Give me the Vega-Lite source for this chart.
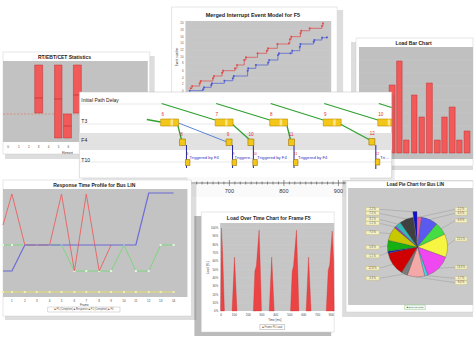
{
"$schema": "https://vega.github.io/schema/vega-lite/v6.json",
"width": 474, "height": 355,
"autosize": {"type": "fit", "contains": "padding"},
"padding": 0,
"background": "#ffffff",
"config": {"view": {"stroke": null}, "text": {"font": "Liberation Sans"}},
"encoding": {
 "x": {"field": "x", "type": "quantitative", "scale": {"domain": [0, 474], "nice": false, "zero": false}, "axis": null},
 "y": {"field": "y", "type": "quantitative", "scale": {"domain": [0, 355], "nice": false, "zero": false, "reverse": true}, "axis": null}
},
"layer": [
 {"data": {"values": [{"x":174,"x2":343,"y":10,"y2":98}]}, "mark": {"type":"rect","fill":"#555","opacity":0.2}, "encoding": {"x2":{"field":"x2"},"y2":{"field":"y2"}}},
 {"data": {"values": [{"x":170,"x2":337,"y":7,"y2":95}]}, "mark": {"type":"rect","fill":"#ffffff","stroke":"#cfcfcf","strokeWidth":0.5}, "encoding": {"x2":{"field":"x2"},"y2":{"field":"y2"}}},
 {"data": {"values": [{"x":184,"x2":331,"y":21,"y2":95}]}, "mark": {"type":"rect","fill":"#c6c6c6"}, "encoding": {"x2":{"field":"x2"},"y2":{"field":"y2"}}},
 {"data": {"values": [{"x":184,"x2":331,"y":30,"y2":30},{"x":184,"x2":331,"y":37,"y2":37},{"x":184,"x2":331,"y":43,"y2":43},{"x":184,"x2":331,"y":50,"y2":50},{"x":184,"x2":331,"y":57,"y2":57},{"x":184,"x2":331,"y":63,"y2":63},{"x":184,"x2":331,"y":71,"y2":71},{"x":184,"x2":331,"y":78,"y2":78},{"x":184,"x2":331,"y":84,"y2":84}]}, "mark": {"type":"rule","color":"#dadada","strokeWidth":0.4,"strokeDash":[1,1]}, "encoding": {"x2":{"field":"x2"},"y2":{"field":"y2"}}},
 {"data": {"values": [{"x":189.3,"y":88.3},{"x":190.7,"y":86},{"x":198.3,"y":83.3},{"x":199.3,"y":81},{"x":211.7,"y":78.3},{"x":212.7,"y":76},{"x":221,"y":72.7},{"x":222,"y":70.7},{"x":234,"y":68.3},{"x":236,"y":65},{"x":243.3,"y":60},{"x":245,"y":57.3},{"x":256.7,"y":53.3},{"x":266,"y":50.7},{"x":267.3,"y":48.3},{"x":276.7,"y":44},{"x":288.3,"y":43.3},{"x":289.3,"y":39.3},{"x":290.7,"y":36.7},{"x":300,"y":33.3},{"x":300.7,"y":30.7},{"x":309.3,"y":28.3},{"x":321.7,"y":26},{"x":322.7,"y":23.3}]}, "mark": {"type":"line","interpolate":"step-after","color":"#e04848","strokeWidth":0.7,"point":{"shape":"square","size":3,"filled":true,"color":"#e04848"}}, "encoding": {}},
 {"data": {"values": [{"x":188.3,"y":90.7},{"x":201.7,"y":89.3},{"x":202.7,"y":87.3},{"x":210,"y":85},{"x":210.7,"y":83.3},{"x":223.3,"y":80.7},{"x":231.7,"y":78.3},{"x":232.7,"y":76},{"x":246.7,"y":70.7},{"x":247.3,"y":68.3},{"x":255,"y":65},{"x":267.3,"y":62.7},{"x":268.3,"y":60},{"x":277.3,"y":55},{"x":278.3,"y":53.3},{"x":290,"y":53.3},{"x":291.7,"y":50.7},{"x":299.3,"y":46.7},{"x":300,"y":44},{"x":313.3,"y":41.7},{"x":314,"y":40},{"x":321.7,"y":37.7},{"x":326.7,"y":37.3}]}, "mark": {"type":"line","interpolate":"step-after","color":"#4a5ad0","strokeWidth":0.7,"point":{"shape":"square","size":3,"filled":true,"color":"#4a5ad0"}}, "encoding": {}},
 {"data": {"values": [{"x":252,"y":15,"t":"Merged Interrupt Event Model for F5"}]}, "mark": {"type":"text","fontSize":5.5,"fontWeight":"bold","color":"#222","baseline":"middle"}, "encoding": {"text":{"field":"t"}}},
 {"data": {"values": [{"x":182,"y":23,"t":"20"},{"x":182,"y":30,"t":"18"},{"x":182,"y":37,"t":"16"},{"x":182,"y":43,"t":"14"},{"x":182,"y":50,"t":"12"},{"x":182,"y":57,"t":"10"},{"x":182,"y":63,"t":"8"},{"x":182,"y":71,"t":"6"},{"x":182,"y":78,"t":"4"},{"x":182,"y":84,"t":"2"},{"x":182,"y":91,"t":"0"}]}, "mark": {"type":"text","fontSize":2.8,"align":"right","baseline":"middle","color":"#555"}, "encoding": {"text":{"field":"t"}}},
 {"data": {"values": [{"x":175,"y":57,"t":"Event number"}]}, "mark": {"type":"text","fontSize":3,"angle":270,"color":"#444"}, "encoding": {"text":{"field":"t"}}},

 {"data": {"values": [{"x":2,"x2":153,"y":56,"y2":159}]}, "mark": {"type":"rect","fill":"#555","opacity":0.2}, "encoding": {"x2":{"field":"x2"},"y2":{"field":"y2"}}},
 {"data": {"values": [{"x":0,"x2":148,"y":52,"y2":154}]}, "mark": {"type":"rect","fill":"#ffffff","stroke":"#cfcfcf","strokeWidth":0.5}, "encoding": {"x2":{"field":"x2"},"y2":{"field":"y2"}}},
 {"data": {"values": [{"x":0,"x2":146,"y":61,"y2":142}]}, "mark": {"type":"rect","fill":"#c2c2c2"}, "encoding": {"x2":{"field":"x2"},"y2":{"field":"y2"}}},
 {"data": {"values": [{"x":0,"x2":146,"y":114,"y2":114}]}, "mark": {"type":"rule","color":"#e07050","strokeWidth":0.6,"strokeDash":[2,1.5]}, "encoding": {"x2":{"field":"x2"},"y2":{"field":"y2"}}},
 {"data": {"values": [{"x":32,"x2":40,"y":65,"y2":113},{"x":52,"x2":59.5,"y":65,"y2":138},{"x":61,"x2":69,"y":114,"y2":138},{"x":71,"x2":79,"y":65,"y2":113}]}, "mark": {"type":"rect","fill":"#f25a5a","stroke":"#b83030","strokeWidth":0.5}, "encoding": {"x2":{"field":"x2"},"y2":{"field":"y2"}}},
 {"data": {"values": [{"x":32,"x2":40,"y":98,"y2":98},{"x":52,"x2":59.5,"y":99,"y2":99},{"x":61,"x2":69,"y":126,"y2":126},{"x":71,"x2":79,"y":95,"y2":95}]}, "mark": {"type":"rule","color":"#a02020","strokeWidth":0.5}, "encoding": {"x2":{"field":"x2"},"y2":{"field":"y2"}}},
 {"data": {"values": [{"x":62,"y":57,"t":"RT/EBT/CET Statistics"}]}, "mark": {"type":"text","fontSize":5,"fontWeight":"bold","color":"#222","baseline":"middle"}, "encoding": {"text":{"field":"t"}}},
 {"data": {"values": [{"x":5,"y":147,"t":"0"},{"x":16,"y":147,"t":"1"},{"x":26,"y":147,"t":"2"},{"x":36,"y":147,"t":"3"},{"x":46,"y":147,"t":"4"},{"x":56,"y":147,"t":"5"},{"x":66,"y":147,"t":"6"},{"x":65,"y":152.5,"t":"Element"}]}, "mark": {"type":"text","fontSize":3,"color":"#444"}, "encoding": {"text":{"field":"t"}}},

 {"data": {"values": [{"x":351,"x2":474,"y":42,"y2":170}]}, "mark": {"type":"rect","fill":"#555","opacity":0.2}, "encoding": {"x2":{"field":"x2"},"y2":{"field":"y2"}}},
 {"data": {"values": [{"x":356,"x2":474,"y":38,"y2":166}]}, "mark": {"type":"rect","fill":"#ffffff","stroke":"#cfcfcf","strokeWidth":0.5}, "encoding": {"x2":{"field":"x2"},"y2":{"field":"y2"}}},
 {"data": {"values": [{"x":359,"x2":474,"y":47,"y2":159}]}, "mark": {"type":"rect","fill":"#c0c0c0"}, "encoding": {"x2":{"field":"x2"},"y2":{"field":"y2"}}},
 {"data": {"values": [{"x":359,"x2":474,"y":60,"y2":60},{"x":359,"x2":474,"y":73,"y2":73},{"x":359,"x2":474,"y":86,"y2":86},{"x":359,"x2":474,"y":100,"y2":100},{"x":359,"x2":474,"y":113,"y2":113},{"x":359,"x2":474,"y":126,"y2":126},{"x":359,"x2":474,"y":140,"y2":140}]}, "mark": {"type":"rule","color":"#d6d6d6","strokeWidth":0.4,"strokeDash":[1,1]}, "encoding": {"x2":{"field":"x2"},"y2":{"field":"y2"}}},
 {"data": {"values": [{"x":389.5,"x2":395.5,"y":85,"y2":153},{"x":397,"x2":402.5,"y":61,"y2":153},{"x":404,"x2":409.5,"y":140,"y2":153},{"x":412,"x2":417.5,"y":95,"y2":153},{"x":419.5,"x2":425,"y":117,"y2":153},{"x":427,"x2":433,"y":83,"y2":153},{"x":435,"x2":441,"y":140,"y2":153},{"x":442.5,"x2":448,"y":117,"y2":153},{"x":450,"x2":456,"y":107,"y2":153},{"x":457.5,"x2":463,"y":140,"y2":153},{"x":465,"x2":471,"y":131,"y2":153}]}, "mark": {"type":"rect","fill":"#f25a5a","stroke":"#c03030","strokeWidth":0.5}, "encoding": {"x2":{"field":"x2"},"y2":{"field":"y2"}}},
 {"data": {"values": [{"x":414,"y":43,"t":"Load Bar Chart"}]}, "mark": {"type":"text","fontSize":5,"fontWeight":"bold","color":"#222","baseline":"middle"}, "encoding": {"text":{"field":"t"}}},

 {"data": {"values": [{"x":80,"x2":395,"y":95,"y2":180}]}, "mark": {"type":"rect","fill":"#555","opacity":0.12}, "encoding": {"x2":{"field":"x2"},"y2":{"field":"y2"}}},
 {"data": {"values": [{"x":77,"x2":392,"y":92,"y2":178}]}, "mark": {"type":"rect","fill":"#ffffff","stroke":"#bdbdbd","strokeWidth":0.5}, "encoding": {"x2":{"field":"x2"},"y2":{"field":"y2"}}},
 {"data": {"values": [{"x":77,"x2":392,"y":133,"y2":150}]}, "mark": {"type":"rect","fill":"#e2e2e2"}, "encoding": {"x2":{"field":"x2"},"y2":{"field":"y2"}}},
 {"data": {"values": [{"x":77,"x2":392,"y":104,"y2":104},{"x":77,"x2":392,"y":124,"y2":124},{"x":77,"x2":392,"y":162,"y2":162}]}, "mark": {"type":"rule","color":"#d0d0d0","strokeWidth":0.5}, "encoding": {"x2":{"field":"x2"},"y2":{"field":"y2"}}},
 {"data": {"values": [{"x":145,"y":119.5,"x2":159,"y2":122},{"x":160,"y":103.5,"x2":214,"y2":120},{"x":215,"y":103.5,"x2":269,"y2":120},{"x":270,"y":103.5,"x2":323,"y2":120},{"x":324,"y":103.5,"x2":378,"y2":120},{"x":379,"y":103.5,"x2":392,"y2":107.5},{"x":176,"y":124,"x2":180,"y2":140},{"x":231,"y":124,"x2":249,"y2":140},{"x":286,"y":124,"x2":290,"y2":140},{"x":340,"y":124,"x2":370,"y2":140}]}, "mark": {"type":"rule","color":"#30a030","strokeWidth":1.3}, "encoding": {"x2":{"field":"x2"},"y2":{"field":"y2"}}},
 {"data": {"values": [{"x":177,"y":123,"x2":226,"y2":142}]}, "mark": {"type":"rule","color":"#5a86d6","strokeWidth":1}, "encoding": {"x2":{"field":"x2"},"y2":{"field":"y2"}}},
 {"data": {"values": [{"x":185,"y":145,"y2":168},{"x":231.5,"y":145,"y2":168},{"x":252.5,"y":145,"y2":168},{"x":293.5,"y":145,"y2":168},{"x":376,"y":145,"y2":169}]}, "mark": {"type":"rule","color":"#2020a0","strokeWidth":1}, "encoding": {"y2":{"field":"y2"}}},
 {"data": {"values": [{"x":159,"x2":177,"y":119,"y2":126},{"x":214,"x2":232,"y":119,"y2":126},{"x":269,"x2":287,"y":119,"y2":126},{"x":323,"x2":341,"y":119,"y2":126},{"x":378,"x2":392,"y":119,"y2":126}]}, "mark": {"type":"rect","fill":"#f3c61a","stroke":"#b58a00","strokeWidth":0.6}, "encoding": {"x2":{"field":"x2"},"y2":{"field":"y2"}}},
 {"data": {"values": [{"x":169,"x2":171.5,"y":119.5,"y2":125.5},{"x":224,"x2":226.5,"y":119.5,"y2":125.5},{"x":279,"x2":281.5,"y":119.5,"y2":125.5},{"x":333,"x2":335.5,"y":119.5,"y2":125.5},{"x":388,"x2":390.5,"y":119.5,"y2":125.5}]}, "mark": {"type":"rect","fill":"#fbe590"}, "encoding": {"x2":{"field":"x2"},"y2":{"field":"y2"}}},
 {"data": {"values": [{"x":178,"x2":184,"y":139,"y2":145.5},{"x":225,"x2":231,"y":139,"y2":145.5},{"x":247,"x2":253,"y":139,"y2":145.5},{"x":288,"x2":294,"y":139,"y2":145.5},{"x":369,"x2":375,"y":138.5,"y2":145}]}, "mark": {"type":"rect","fill":"#f3c61a","stroke":"#9a7400","strokeWidth":0.6}, "encoding": {"x2":{"field":"x2"},"y2":{"field":"y2"}}},
 {"data": {"values": [{"x":184,"x2":188.5,"y":159.5,"y2":165.5},{"x":231,"x2":235.5,"y":159.5,"y2":165.5},{"x":252,"x2":256.5,"y":159.5,"y2":165.5},{"x":293,"x2":297.5,"y":159.5,"y2":165.5},{"x":375.5,"x2":380,"y":159,"y2":165}]}, "mark": {"type":"rect","fill":"#f3c61a","stroke":"#9a7400","strokeWidth":0.6}, "encoding": {"x2":{"field":"x2"},"y2":{"field":"y2"}}},
 {"data": {"values": [{"x":79,"y":100,"t":"Initial Path Delay"},{"x":79,"y":121,"t":"T3"},{"x":79,"y":140,"t":"F4"},{"x":79,"y":160,"t":"T10"}]}, "mark": {"type":"text","fontSize":5,"align":"left","baseline":"middle","color":"#222"}, "encoding": {"text":{"field":"t"}}},
 {"data": {"values": [{"x":161,"y":114.5,"t":"6"},{"x":215.5,"y":114.5,"t":"7"},{"x":270.5,"y":114.5,"t":"8"},{"x":325,"y":114.5,"t":"9"},{"x":381,"y":114.5,"t":"10"},{"x":180,"y":134.5,"t":"8"},{"x":227,"y":134.5,"t":"9"},{"x":250,"y":134.5,"t":"10"},{"x":290.5,"y":134.5,"t":"11"},{"x":372.5,"y":134,"t":"12"}]}, "mark": {"type":"text","fontSize":4.5,"baseline":"middle","color":"#e03030"}, "encoding": {"text":{"field":"t"}}},
 {"data": {"values": [{"x":186,"y":154,"t":"6"},{"x":232.5,"y":154,"t":"9"},{"x":254,"y":154,"t":"10"},{"x":295,"y":154,"t":"11"},{"x":377.5,"y":154,"t":"12"}]}, "mark": {"type":"text","fontSize":3.5,"baseline":"middle","color":"#e03030"}, "encoding": {"text":{"field":"t"}}},
 {"data": {"values": [{"x":188,"y":157.5,"t":"Triggered by F4"},{"x":256.5,"y":157.5,"t":"Triggered by F4"},{"x":297.5,"y":157.5,"t":"Triggered by F4"}]}, "mark": {"type":"text","fontSize":4.2,"align":"left","baseline":"middle","color":"#3030c0"}, "encoding": {"text":{"field":"t"}}},
 {"data": {"values": [{"x":233.5,"y":157.5,"t":"Triggered by F4"}]}, "mark": {"type":"text","fontSize":4.2,"align":"left","baseline":"middle","color":"#3030c0","limit":21,"ellipsis":""}, "encoding": {"text":{"field":"t"}}},
 {"data": {"values": [{"x":380.5,"y":157.5,"t":"Triggered by F4"}]}, "mark": {"type":"text","fontSize":4.2,"align":"left","baseline":"middle","color":"#3030c0","limit":11,"ellipsis":""}, "encoding": {"text":{"field":"t"}}},

 {"data": {"values": [{"x":186,"x2":350,"y":177,"y2":197}]}, "mark": {"type":"rect","fill":"#fafafa"}, "encoding": {"x2":{"field":"x2"},"y2":{"field":"y2"}}},
 {"data": {"values": [{"x":188,"x2":347,"y":183,"y2":183}]}, "mark": {"type":"rule","color":"#333","strokeWidth":0.6}, "encoding": {"x2":{"field":"x2"},"y2":{"field":"y2"}}},
 {"data": {"values": [{"x":189.8,"y":181.5,"y2":184.5},{"x":195.3,"y":181.5,"y2":184.5},{"x":200.8,"y":181.5,"y2":184.5},{"x":206.3,"y":181.5,"y2":184.5},{"x":211.8,"y":181.5,"y2":184.5},{"x":217.3,"y":181.5,"y2":184.5},{"x":222.8,"y":181.5,"y2":184.5},{"x":228.3,"y":180,"y2":186},{"x":233.8,"y":181.5,"y2":184.5},{"x":239.3,"y":181.5,"y2":184.5},{"x":244.8,"y":181.5,"y2":184.5},{"x":250.3,"y":181.5,"y2":184.5},{"x":255.8,"y":181.5,"y2":184.5},{"x":261.3,"y":181.5,"y2":184.5},{"x":266.8,"y":181.5,"y2":184.5},{"x":272.3,"y":181.5,"y2":184.5},{"x":277.8,"y":181.5,"y2":184.5},{"x":283.3,"y":180,"y2":186},{"x":288.8,"y":181.5,"y2":184.5},{"x":294.3,"y":181.5,"y2":184.5},{"x":299.8,"y":181.5,"y2":184.5},{"x":305.3,"y":181.5,"y2":184.5},{"x":310.8,"y":181.5,"y2":184.5},{"x":316.3,"y":181.5,"y2":184.5},{"x":321.8,"y":181.5,"y2":184.5},{"x":327.3,"y":181.5,"y2":184.5},{"x":332.8,"y":181.5,"y2":184.5},{"x":338.3,"y":180,"y2":186},{"x":343.8,"y":181.5,"y2":184.5}]}, "mark": {"type":"rule","color":"#333","strokeWidth":0.5}, "encoding": {"y2":{"field":"y2"}}},
 {"data": {"values": [{"x":228.3,"y":190.5,"t":"700"},{"x":283.3,"y":190.5,"t":"800"},{"x":338.3,"y":190.5,"t":"900"}]}, "mark": {"type":"text","fontSize":5.5,"baseline":"middle","color":"#333"}, "encoding": {"text":{"field":"t"}}},

 {"data": {"values": [{"x":2,"x2":195,"y":184,"y2":320}]}, "mark": {"type":"rect","fill":"#555","opacity":0.2}, "encoding": {"x2":{"field":"x2"},"y2":{"field":"y2"}}},
 {"data": {"values": [{"x":0,"x2":190,"y":180,"y2":316}]}, "mark": {"type":"rect","fill":"#ffffff","stroke":"#cfcfcf","strokeWidth":0.5}, "encoding": {"x2":{"field":"x2"},"y2":{"field":"y2"}}},
 {"data": {"values": [{"x":0,"x2":186,"y":189,"y2":297}]}, "mark": {"type":"rect","fill":"#c3c3c3"}, "encoding": {"x2":{"field":"x2"},"y2":{"field":"y2"}}},
 {"data": {"values": [{"x":0,"y":292},{"x":9,"y":292},{"x":22,"y":292},{"x":34,"y":292},{"x":47,"y":292},{"x":59,"y":292},{"x":72,"y":292},{"x":84,"y":292},{"x":97,"y":292},{"x":109,"y":292},{"x":122,"y":292},{"x":134,"y":292},{"x":147,"y":292},{"x":159,"y":292},{"x":172,"y":292}]}, "mark": {"type":"line","color":"#e4dc6a","strokeWidth":1,"point":{"shape":"square","size":4,"filled":true,"color":"#f4f0b0"}}, "encoding": {}},
 {"data": {"values": [{"x":0,"y":245},{"x":9,"y":245},{"x":22,"y":245},{"x":34,"y":245},{"x":47,"y":245},{"x":59,"y":245},{"x":72,"y":271},{"x":84,"y":271},{"x":97,"y":271},{"x":109,"y":271},{"x":122,"y":245},{"x":134,"y":271},{"x":147,"y":271},{"x":159,"y":245},{"x":172,"y":245}]}, "mark": {"type":"line","color":"#80d480","strokeWidth":1,"point":{"shape":"square","size":4,"filled":true,"color":"#e4f6e4"}}, "encoding": {}},
 {"data": {"values": [{"x":0,"y":225},{"x":9,"y":194},{"x":22,"y":245},{"x":34,"y":245},{"x":47,"y":245},{"x":59,"y":194},{"x":72,"y":271},{"x":84,"y":194},{"x":97,"y":271},{"x":109,"y":245}]}, "mark": {"type":"line","color":"#e86a6a","strokeWidth":1}, "encoding": {}},
 {"data": {"values": [{"x":0,"y":271},{"x":9,"y":271},{"x":22,"y":245},{"x":34,"y":245},{"x":47,"y":245},{"x":59,"y":245},{"x":72,"y":245},{"x":84,"y":245},{"x":97,"y":245},{"x":109,"y":245},{"x":122,"y":245},{"x":134,"y":245},{"x":147,"y":193},{"x":159,"y":193},{"x":172,"y":193}]}, "mark": {"type":"line","color":"#6b6bd6","strokeWidth":1.2}, "encoding": {}},
 {"data": {"values": [{"x":92,"y":185,"t":"Response Time Profile for Bus LIN"}]}, "mark": {"type":"text","fontSize":5,"fontWeight":"bold","color":"#222","baseline":"middle"}, "encoding": {"text":{"field":"t"}}},
 {"data": {"values": [{"x":9,"y":300.5,"t":"1"},{"x":22,"y":300.5,"t":"2"},{"x":34,"y":300.5,"t":"3"},{"x":47,"y":300.5,"t":"4"},{"x":59,"y":300.5,"t":"5"},{"x":72,"y":300.5,"t":"6"},{"x":84,"y":300.5,"t":"7"},{"x":97,"y":300.5,"t":"8"},{"x":109,"y":300.5,"t":"9"},{"x":122,"y":300.5,"t":"10"},{"x":134,"y":300.5,"t":"11"},{"x":147,"y":300.5,"t":"12"},{"x":159,"y":300.5,"t":"13"},{"x":172,"y":300.5,"t":"14"},{"x":82,"y":305,"t":"Frame"}]}, "mark": {"type":"text","fontSize":3,"baseline":"middle","color":"#444"}, "encoding": {"text":{"field":"t"}}},
 {"data": {"values": [{"x":45,"x2":118,"y":307,"y2":312}]}, "mark": {"type":"rect","fill":"#ffffff","stroke":"#aaaaaa","strokeWidth":0.4}, "encoding": {"x2":{"field":"x2"},"y2":{"field":"y2"}}},
 {"data": {"values": [{"x":81.5,"y":309.5,"t":"■ F5 (Complete)  ■ Response  ■ F1 (Complete)  ■ F4"}]}, "mark": {"type":"text","fontSize":2.6,"baseline":"middle","color":"#555"}, "encoding": {"text":{"field":"t"}}},

 {"data": {"values": [{"x":193,"x2":331,"y":216,"y2":336}]}, "mark": {"type":"rect","fill":"#555","opacity":0.4}, "encoding": {"x2":{"field":"x2"},"y2":{"field":"y2"}}},
 {"data": {"values": [{"x":200,"x2":334,"y":212,"y2":332}]}, "mark": {"type":"rect","fill":"#ffffff","stroke":"#cfcfcf","strokeWidth":0.5}, "encoding": {"x2":{"field":"x2"},"y2":{"field":"y2"}}},
 {"data": {"values": [{"x":219,"x2":334,"y":223,"y2":311}]}, "mark": {"type":"rect","fill":"#c6c6c6"}, "encoding": {"x2":{"field":"x2"},"y2":{"field":"y2"}}},
 {"data": {"values": [{"x":219,"x2":334,"y":302.7,"y2":302.7},{"x":219,"x2":334,"y":294.3,"y2":294.3},{"x":219,"x2":334,"y":286,"y2":286},{"x":219,"x2":334,"y":277.6,"y2":277.6},{"x":219,"x2":334,"y":269.3,"y2":269.3},{"x":219,"x2":334,"y":261,"y2":261},{"x":219,"x2":334,"y":252.6,"y2":252.6},{"x":219,"x2":334,"y":244.3,"y2":244.3},{"x":219,"x2":334,"y":236,"y2":236},{"x":219,"x2":334,"y":227.6,"y2":227.6}]}, "mark": {"type":"rule","color":"#d8d8d8","strokeWidth":0.4,"strokeDash":[1,1]}, "encoding": {"x2":{"field":"x2"},"y2":{"field":"y2"}}},
 {"data": {"values": [{"s":1,"x":219.5,"y":311},{"s":1,"x":220.3,"y":228},{"s":1,"x":221.5,"y":252},{"s":1,"x":223.3,"y":311},{"s":2,"x":231,"y":311},{"s":2,"x":233.5,"y":257},{"s":2,"x":236,"y":311},{"s":3,"x":252.5,"y":311},{"s":3,"x":254,"y":271},{"s":3,"x":255.5,"y":266},{"s":3,"x":258.3,"y":230},{"s":3,"x":259.5,"y":268},{"s":3,"x":260.7,"y":311},{"s":4,"x":268.5,"y":311},{"s":4,"x":271,"y":257},{"s":4,"x":273.5,"y":311},{"s":5,"x":290,"y":311},{"s":5,"x":291.7,"y":271},{"s":5,"x":293,"y":266},{"s":5,"x":296,"y":230},{"s":5,"x":297.2,"y":268},{"s":5,"x":298.4,"y":311},{"s":6,"x":305.7,"y":311},{"s":6,"x":308.2,"y":257},{"s":6,"x":310.7,"y":311},{"s":7,"x":326,"y":311},{"s":7,"x":328,"y":270},{"s":7,"x":329.5,"y":265},{"s":7,"x":332,"y":231},{"s":7,"x":333.5,"y":262},{"s":7,"x":334,"y":311}]}, "mark": {"type":"area","color":"#ec4444","stroke":"#c82828","strokeWidth":0.3}, "encoding": {"y2":{"datum":311},"detail":{"field":"s"}}},
 {"data": {"values": [{"x":268,"y":218,"t":"Load Over Time Chart for Frame F5"}]}, "mark": {"type":"text","fontSize":5,"fontWeight":"bold","color":"#222","baseline":"middle"}, "encoding": {"text":{"field":"t"}}},
 {"data": {"values": [{"x":217,"y":311,"t":"0%"},{"x":217,"y":302.7,"t":"10%"},{"x":217,"y":294.3,"t":"20%"},{"x":217,"y":286,"t":"30%"},{"x":217,"y":277.6,"t":"40%"},{"x":217,"y":269.3,"t":"50%"},{"x":217,"y":261,"t":"60%"},{"x":217,"y":252.6,"t":"70%"},{"x":217,"y":244.3,"t":"80%"},{"x":217,"y":236,"t":"90%"},{"x":217,"y":227.6,"t":"100%"}]}, "mark": {"type":"text","fontSize":2.8,"align":"right","baseline":"middle","color":"#444"}, "encoding": {"text":{"field":"t"}}},
 {"data": {"values": [{"x":220,"y":315,"t":"0"},{"x":233.3,"y":315,"t":"100"},{"x":247.3,"y":315,"t":"200"},{"x":261,"y":315,"t":"300"},{"x":275,"y":315,"t":"400"},{"x":289.3,"y":315,"t":"500"},{"x":303.3,"y":315,"t":"600"},{"x":317.3,"y":315,"t":"700"},{"x":331,"y":315,"t":"800"},{"x":274,"y":320,"t":"Time [ms]"}]}, "mark": {"type":"text","fontSize":3,"baseline":"middle","color":"#444"}, "encoding": {"text":{"field":"t"}}},
 {"data": {"values": [{"x":207,"y":268,"t":"Load [%]"}]}, "mark": {"type":"text","fontSize":3.2,"angle":270,"baseline":"middle","color":"#444"}, "encoding": {"text":{"field":"t"}}},
 {"data": {"values": [{"x":259,"x2":284,"y":324.5,"y2":329.5}]}, "mark": {"type":"rect","fill":"#ffffff","stroke":"#888888","strokeWidth":0.4}, "encoding": {"x2":{"field":"x2"},"y2":{"field":"y2"}}},
 {"data": {"values": [{"x":271.5,"y":327,"t":"■ Frame F5 Load"}]}, "mark": {"type":"text","fontSize":2.6,"baseline":"middle","color":"#555"}, "encoding": {"text":{"field":"t"}}},

 {"data": {"values": [{"x":342,"x2":474,"y":180,"y2":317}]}, "mark": {"type":"rect","fill":"#555","opacity":0.2}, "encoding": {"x2":{"field":"x2"},"y2":{"field":"y2"}}},
 {"data": {"values": [{"x":346,"x2":474,"y":181,"y2":312}]}, "mark": {"type":"rect","fill":"#ffffff","stroke":"#cfcfcf","strokeWidth":0.5}, "encoding": {"x2":{"field":"x2"},"y2":{"field":"y2"}}},
 {"data": {"values": [{"x":348,"x2":474,"y":188,"y2":305}]}, "mark": {"type":"rect","fill":"#c9c9c9"}, "encoding": {"x2":{"field":"x2"},"y2":{"field":"y2"}}},
 {"data": {"values": [{"x":456,"y":209.3,"x2":420.1,"y2":217.1},{"x":456,"y":213.3,"x2":430.2,"y2":219.6},{"x":456,"y":220.7,"x2":441.8,"y2":228.7},{"x":456,"y":239.3,"x2":448,"y2":245.7},{"x":456,"y":267.3,"x2":439.2,"y2":268.2},{"x":456,"y":278.3,"x2":426.8,"y2":275.7},{"x":456,"y":282.7,"x2":416.4,"y2":277},{"x":379.5,"y":209.3,"x2":416.5,"y2":212},{"x":379.5,"y":213.3,"x2":407,"y2":219.1},{"x":379.5,"y":219.3,"x2":398.5,"y2":224.2},{"x":379.5,"y":223.3,"x2":395.7,"y2":226.9},{"x":379.5,"y":232.7,"x2":391.2,"y2":233.6},{"x":379.5,"y":247.3,"x2":388,"y2":245.7},{"x":379.5,"y":256,"x2":388.5,"y2":252.2},{"x":379.5,"y":268.3,"x2":393.4,"y2":264.2},{"x":379.5,"y":278.3,"x2":404.8,"y2":274}]}, "mark": {"type":"rule","color":"#9a9a9a","strokeWidth":0.5}, "encoding": {"x2":{"field":"x2"},"y2":{"field":"y2"}}},
 {"data": {"values": [{"k":1,"a0":0,"a1":8,"cx":418,"cy":247},{"k":2,"a0":8,"a1":40,"cx":418,"cy":247},{"k":3,"a0":40,"a1":65,"cx":418,"cy":247},{"k":4,"a0":65,"a1":110,"cx":418,"cy":247},{"k":5,"a0":110,"a1":160,"cx":418,"cy":247},{"k":6,"a0":160,"a1":166,"cx":418,"cy":247},{"k":7,"a0":166,"a1":200,"cx":418,"cy":247},{"k":8,"a0":200,"a1":212,"cx":418,"cy":247},{"k":9,"a0":212,"a1":258,"cx":418,"cy":247},{"k":10,"a0":258,"a1":262,"cx":418,"cy":247},{"k":11,"a0":262,"a1":283,"cx":418,"cy":247},{"k":12,"a0":283,"a1":310,"cx":418,"cy":247},{"k":13,"a0":310,"a1":314,"cx":418,"cy":247},{"k":14,"a0":314,"a1":325,"cx":418,"cy":247},{"k":15,"a0":325,"a1":352,"cx":418,"cy":247},{"k":16,"a0":352,"a1":360,"cx":417.5,"cy":241.5}]}, "mark": {"type":"arc","outerRadius":30,"stroke":"#444","strokeWidth":0.3},
  "encoding": {"x":{"field":"cx","type":"quantitative","stack":null},"y":{"field":"cy","type":"quantitative","stack":null},
   "theta":{"field":"a0","type":"quantitative","scale":{"domain":[0,360],"range":[0,6.2832]}},"theta2":{"field":"a1"},
   "color":{"field":"k","type":"ordinal","legend":null,"scale":{"domain":[1,2,3,4,5,6,7,8,9,10,11,12,13,14,15,16],"range":["#e0609a","#5a5af0","#44dd44","#f5f542","#f048f0","#40d8e8","#f5a8a8","#7a7a7a","#d00000","#2020b0","#14b014","#c8c800","#9a3cc0","#30b8b8","#404040","#1010d0"]}}}},
 {"data": {"values": [{"x":456,"x2":468,"y":207.5,"y2":211.1},{"x":456,"x2":468,"y":211.5,"y2":215.1},{"x":456,"x2":468,"y":218.9,"y2":222.5},{"x":456,"x2":468,"y":237.5,"y2":241.1},{"x":456,"x2":468,"y":265.5,"y2":269.1},{"x":456,"x2":468,"y":276.5,"y2":280.1},{"x":456,"x2":468,"y":280.9,"y2":284.5},{"x":366,"x2":379.5,"y":207.5,"y2":211.1},{"x":366,"x2":379.5,"y":211.5,"y2":215.1},{"x":366,"x2":379.5,"y":217.5,"y2":221.1},{"x":366,"x2":379.5,"y":221.5,"y2":225.1},{"x":366,"x2":379.5,"y":230.9,"y2":234.5},{"x":366,"x2":379.5,"y":245.5,"y2":249.1},{"x":366,"x2":379.5,"y":254.2,"y2":257.8},{"x":366,"x2":379.5,"y":266.5,"y2":270.1},{"x":366,"x2":379.5,"y":276.5,"y2":280.1}]}, "mark": {"type":"rect","fill":"#f6f2c8","stroke":"#c8b860","strokeWidth":0.4}, "encoding": {"x2":{"field":"x2"},"y2":{"field":"y2"}}},
 {"data": {"values": [{"x":462,"y":209.3,"t":"2.2 %"},{"x":462,"y":213.3,"t":"8.9 %"},{"x":462,"y":220.7,"t":"6.9 %"},{"x":462,"y":239.3,"t":"12.5 %"},{"x":462,"y":267.3,"t":"13.9 %"},{"x":462,"y":278.3,"t":"1.7 %"},{"x":462,"y":282.7,"t":"9.4 %"},{"x":372.7,"y":209.3,"t":"2.2 %"},{"x":372.7,"y":213.3,"t":"7.5 %"},{"x":372.7,"y":219.3,"t":"3.1 %"},{"x":372.7,"y":223.3,"t":"1.1 %"},{"x":372.7,"y":232.7,"t":"7.5 %"},{"x":372.7,"y":247.3,"t":"5.8 %"},{"x":372.7,"y":256,"t":"1.1 %"},{"x":372.7,"y":268.3,"t":"12.8 %"},{"x":372.7,"y":278.3,"t":"3.3 %"}]}, "mark": {"type":"text","fontSize":2.6,"baseline":"middle","color":"#555"}, "encoding": {"text":{"field":"t"}}},
 {"data": {"values": [{"x":416,"y":184.5,"t":"Load Pie Chart for Bus LIN"}]}, "mark": {"type":"text","fontSize":4.5,"fontWeight":"bold","color":"#222","baseline":"middle"}, "encoding": {"text":{"field":"t"}}},
 {"data": {"values": [{"x":405,"x2":426,"y":305,"y2":309.5}]}, "mark": {"type":"rect","fill":"#eef6ee","stroke":"#77cc77","strokeWidth":0.4}, "encoding": {"x2":{"field":"x2"},"y2":{"field":"y2"}}},
 {"data": {"values": [{"x":415.5,"y":307.3,"t":"■ Bus LIN Load"}]}, "mark": {"type":"text","fontSize":2.4,"baseline":"middle","color":"#555"}, "encoding": {"text":{"field":"t"}}}
]
}
